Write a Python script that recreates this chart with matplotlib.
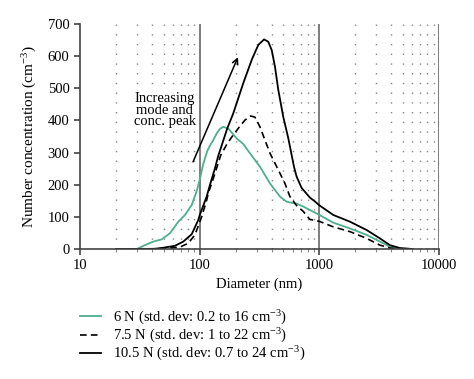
import numpy as np
import matplotlib
matplotlib.use("Agg")
import matplotlib.pyplot as plt
from matplotlib.ticker import FixedLocator, NullFormatter

plt.rcParams['font.family'] = ['Liberation Serif', 'DejaVu Serif']
plt.rcParams['mathtext.fontset'] = 'custom'
plt.rcParams['mathtext.rm'] = 'Liberation Serif'
plt.rcParams['mathtext.it'] = 'Liberation Serif:italic'

# 6 N
d6 = [20, 29.8, 34.9, 41, 48.2, 56.5, 66.3, 75.4, 85.8, 94.4, 100, 107.2, 115.7, 122,
      130, 139, 148, 157.5, 173.4, 204, 231, 263, 319, 387, 469, 533, 600, 646, 734,
      889, 1000, 1306, 1802, 2485, 3209, 3889, 4714, 6000]
n6 = [0, 0, 12, 23, 30, 49, 85, 106, 137, 180, 215, 265, 305, 322,
      339, 360, 374, 380, 375, 344, 327, 298, 256, 204, 163, 147, 143, 141, 132,
      116, 106, 82, 64, 44, 23, 7, 1, 0]
# 7.5 N
d75 = [20, 50, 68.5, 80.3, 91.3, 97, 103.9, 114.4, 118, 134.2, 150, 170, 190.9, 217,
       239, 267, 290, 319, 351, 387, 454, 516, 568, 646, 734, 834, 1000, 1306, 1802,
       2485, 3209, 3889, 4714, 6000]
n75 = [0, 1, 6, 18, 44, 70, 100, 152, 173, 235, 292, 328, 355, 382,
       401, 414, 410, 380, 339, 298, 246, 204, 163, 135, 117, 92, 86, 69, 54,
       33, 12, 3, 0, 0]
# 10.5 N
d105 = [20, 41, 49.7, 62.2, 72.9, 85.8, 97.3, 100, 107.2, 114.4, 122, 134, 143, 152.7,
        170, 190.9, 231, 272, 309, 345, 374, 400, 426, 454, 499, 550, 614, 646, 711,
        834, 918, 1000, 1306, 1802, 2485, 3209, 3889, 4714, 6000]
n105 = [0, 0, 4, 10, 23, 46, 90, 105, 135, 163, 200, 250, 290, 322,
        375, 422, 515, 588, 635, 652, 645, 619, 567, 495, 412, 345, 256, 225, 190,
        160, 148, 136, 106, 85, 59, 33, 12, 3, 0]

labels = [r"6 N (std. dev: 0.2 to 16 cm$^{-3}$)",
          r"7.5 N (std. dev: 1 to 22 cm$^{-3}$)",
          r"10.5 N (std. dev: 0.7 to 24 cm$^{-3}$)"]

W, H = 474, 379
fig = plt.figure(figsize=(W / 100, H / 100), dpi=100)
ax = fig.add_axes([80 / W, 1 - 249 / H, (439 - 80) / W, (249 - 24) / H])

green = '#4fae8e'
l1, = ax.plot(d6, n6, color=green, lw=1.3)
l2, = ax.plot(d75, n75, color='black', lw=1.2, ls=(0, (4, 2.5)))
l3, = ax.plot(d105, n105, color='black', lw=1.3)

ax.set_xscale('log')
ax.set_xlim(10, 10000)
ax.set_ylim(0, 700)
ax.set_yticks(np.arange(0, 701, 100))
ax.xaxis.set_major_locator(FixedLocator([10, 100, 1000, 10000]))
ax.set_xticklabels(['10', '100', '1000', '10000'])
minors = [m * 10 ** e for e in (1, 2, 3) for m in range(2, 10)]
ax.xaxis.set_minor_locator(FixedLocator(minors))
ax.xaxis.set_minor_formatter(NullFormatter())

for v in minors:
    ax.axvline(v, color='#888888', lw=1.0, ls=(0, (1, 6)), zorder=0)
for v in [100, 1000, 10000]:
    ax.axvline(v, color='#666666', lw=1.2, zorder=0)

for s in ['top', 'right']:
    ax.spines[s].set_visible(False)
for s in ['left', 'bottom']:
    ax.spines[s].set_color('#444444')
    ax.spines[s].set_linewidth(1.2)
ax.tick_params(axis='both', which='major', direction='out', length=4, width=1.2,
               color='#444444', labelsize=10.5)
ax.tick_params(axis='x', which='minor', length=2, width=0.8, color='#888888')

ax.set_xlabel('Diameter (nm)', fontsize=10.5, labelpad=4)
ax.set_ylabel(r'Number concentration (cm$^{-3}$)', fontsize=11, labelpad=6)

ax.annotate('', xy=(209, 597), xytext=(88, 271),
            arrowprops=dict(arrowstyle='->', color='black', lw=1.1,
                            mutation_scale=10, shrinkA=0, shrinkB=0))
ax.text(51, 432, 'Increasing\nmode and\nconc. peak', ha='center', va='center',
        fontsize=10.5, linespacing=0.85,
        bbox=dict(facecolor='white', edgecolor='none', pad=0.5))

fig.legend([l1, l2, l3], labels, loc='upper left',
           bbox_to_anchor=(73 / W, 1 - 301 / H), frameon=False, fontsize=10.5,
           handlelength=1.4, handletextpad=0.85, labelspacing=0.0, borderpad=0)

fig.savefig('out.png', dpi=100)
